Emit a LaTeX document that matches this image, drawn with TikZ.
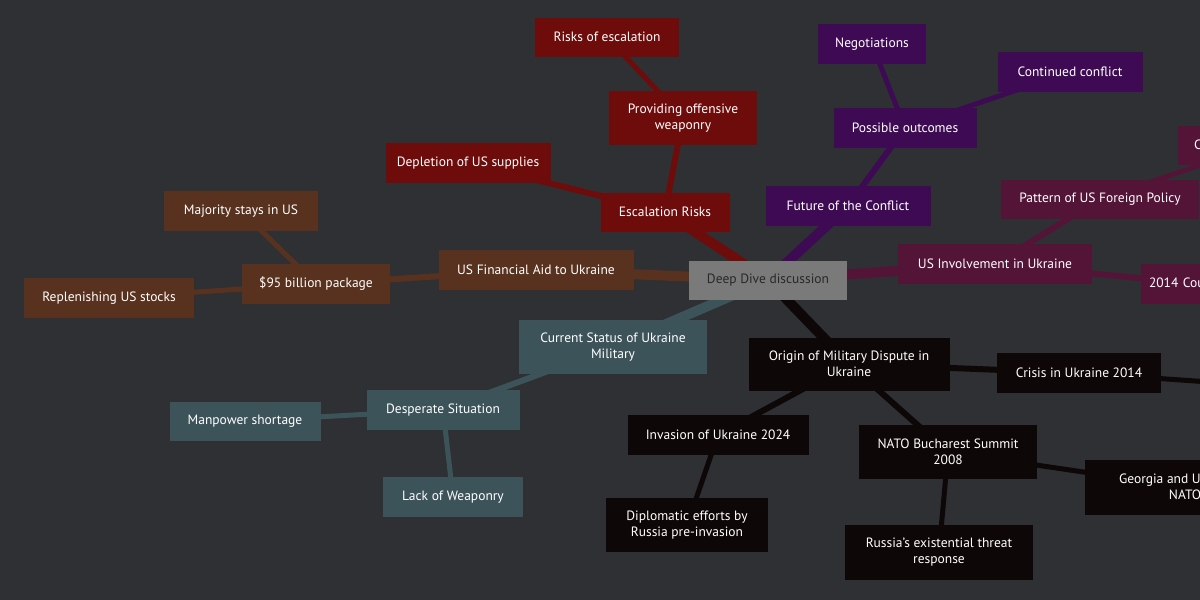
\documentclass[tikz,border=0pt]{standalone}
\usepackage{fontspec}
\setmainfont{PT Sans}
\begin{document}
\begin{tikzpicture}[x=1pt,y=-1pt,
  n/.style={fill=#1,text=white,font=\fontsize{13.5}{15.5}\selectfont,align=center,inner sep=0pt},
  e/.style={draw=#1,line width=6pt},
  e1/.style={draw=#1,line width=10pt}]
\fill[fill={rgb,255:red,46;green,48;blue,52}] (0,0) rectangle (1200,600);
\useasboundingbox (0,0) rectangle (1200,600);
\clip (0,0) rectangle (1200,600);
\definecolor{br}{RGB}{88,50,30}
\definecolor{rd}{RGB}{110,12,12}
\definecolor{pu}{RGB}{62,10,84}
\definecolor{ma}{RGB}{84,20,56}
\definecolor{bk}{RGB}{14,7,7}
\definecolor{te}{RGB}{61,83,90}
\definecolor{gr}{RGB}{122,122,122}
% coordinates
\coordinate (cRoot) at (768,280);
\coordinate (cFin) at (536,270); \coordinate (c95) at (316,284);
\coordinate (cMaj) at (241,211); \coordinate (cRep) at (109,298);
\coordinate (cEsc) at (665,212); \coordinate (cDep) at (468,163);
\coordinate (cProv) at (683,118); \coordinate (cRisk) at (607,37);
\coordinate (cFut) at (848,206); \coordinate (cPos) at (905,128);
\coordinate (cNeg) at (872,44); \coordinate (cCon) at (1070,72);
\coordinate (cInv) at (995,264); \coordinate (cPat) at (1100,199);
\coordinate (cC) at (1260,145); \coordinate (c2014) at (1200,284);
\coordinate (cOri) at (849,364); \coordinate (cCri) at (1079,373);
\coordinate (cCriOut) at (1210,382);
\coordinate (cInva) at (718,435); \coordinate (cDip) at (687,525);
\coordinate (cNato) at (948,452); \coordinate (cRus) at (939,552);
\coordinate (cGeo) at (1185,487);
\coordinate (cCur) at (613,347); \coordinate (cDes) at (443,410);
\coordinate (cMan) at (245,421); \coordinate (cLack) at (453,497);
% edges
\draw[e1=br] (cRoot)--(cFin); \draw[e=br] (cFin)--(c95); \draw[e=br,line width=5pt] (c95)--(cMaj); \draw[e=br,line width=5pt] (c95)--(cRep);
\draw[e1=rd] (cRoot)--(cEsc); \draw[e=rd] (cEsc)--(cDep); \draw[e=rd] (cEsc)--(cProv); \draw[e=rd,line width=5pt] (cProv)--(cRisk);
\draw[e1=pu] (cRoot)--(cFut); \draw[e=pu] (cFut)--(cPos); \draw[e=pu,line width=5pt] (cPos)--(cNeg); \draw[e=pu,line width=5pt] (cPos)--(cCon);
\draw[e1=ma] (cRoot)--(cInv); \draw[e=ma] (cInv)--(cPat); \draw[e=ma] (cInv)--(c2014); \draw[e=ma,line width=5pt] (cPat)--(cC);
\draw[e1=bk] (cRoot)--(cOri); \draw[e=bk] (cOri)--(cCri); \draw[e=bk,line width=5pt] (cCri)--(cCriOut);
\draw[e=bk] (cOri)--(cInva); \draw[e=bk,line width=5pt] (cInva)--(cDip);
\draw[e=bk] (cOri)--(cNato); \draw[e=bk,line width=5pt] (cNato)--(cRus); \draw[e=bk,line width=5pt] (cNato)--(cGeo);
\draw[e1=te] (cRoot)--(cCur); \draw[e=te] (cCur)--(cDes); \draw[e=te,line width=5pt] (cDes)--(cMan); \draw[e=te,line width=5pt] (cDes)--(cLack);
% nodes
\node[n=gr,text={rgb,255:red,40;green,40;blue,40},minimum width=158pt,minimum height=39pt] (root) at (cRoot) {Deep Dive discussion};
\node[n=br,minimum width=195pt,minimum height=40pt] (fin) at (cFin) {US Financial Aid to Ukraine};
\node[n=br,minimum width=148pt,minimum height=40pt] (b95) at (c95) {\$95 billion package};
\node[n=br,minimum width=154pt,minimum height=40pt] (maj) at (cMaj) {Majority stays in US};
\node[n=br,minimum width=170pt,minimum height=40pt] (rep) at (cRep) {Replenishing US stocks};
\node[n=rd,minimum width=129pt,minimum height=39pt] (esc) at (cEsc) {Escalation Risks};
\node[n=rd,minimum width=165pt,minimum height=40pt] (dep) at (cDep) {Depletion of US supplies};
\node[n=rd,minimum width=148pt,minimum height=54pt] (prov) at (cProv) {Providing offensive\\weaponry};
\node[n=rd,minimum width=144pt,minimum height=39pt] (risk) at (cRisk) {Risks of escalation};
\node[n=pu,minimum width=165pt,minimum height=40pt] (fut) at (cFut) {Future of the Conflict};
\node[n=pu,minimum width=143pt,minimum height=40pt] (pos) at (cPos) {Possible outcomes};
\node[n=pu,minimum width=108pt,minimum height=40pt] (neg) at (cNeg) {Negotiations};
\node[n=pu,minimum width=145pt,minimum height=40pt] (con) at (cCon) {Continued conflict};
\node[n=ma,minimum width=194pt,minimum height=40pt] (inv) at (cInv) {US Involvement in Ukraine};
\node[n=ma,minimum width=198pt,minimum height=39pt] (pat) at (cPat) {Pattern of US Foreign Policy};
\node[n=ma,minimum width=164pt,minimum height=39pt] (cn) at (cC) {};
\node[text=white,font=\fontsize{13.5}{15.5}\selectfont,anchor=west,inner sep=0pt] (ct) at (1194,145) {C};
\node[n=ma,minimum width=118pt,minimum height=40pt,text width=102pt,align=left] (y14) at (c2014) {2014 Coup};
\node[n=bk,minimum width=201pt,minimum height=53pt] (ori) at (cOri) {Origin of Military Dispute in\\Ukraine};
\node[n=bk,minimum width=164pt,minimum height=40pt] (cri) at (cCri) {Crisis in Ukraine 2014};
\node[n=bk,minimum width=181pt,minimum height=40pt] (inva) at (cInva) {Invasion of Ukraine 2024};
\node[n=bk,minimum width=162pt,minimum height=54pt] (dip) at (cDip) {Diplomatic efforts by\\Russia pre-invasion};
\node[n=bk,minimum width=178pt,minimum height=54pt] (nato) at (cNato) {NATO Bucharest Summit\\2008};
\node[n=bk,minimum width=188pt,minimum height=55pt] (rus) at (cRus) {Russia's existential threat\\response};
\node[n=bk,minimum width=200pt,minimum height=55pt] (geo) at (cGeo) {Georgia and Ukraine in\\NATO};
\node[n=te,minimum width=188pt,minimum height=54pt] (cur) at (cCur) {Current Status of Ukraine\\Military};
\node[n=te,minimum width=153pt,minimum height=40pt] (des) at (cDes) {Desperate Situation};
\node[n=te,minimum width=151pt,minimum height=39pt] (man) at (cMan) {Manpower shortage};
\node[n=te,minimum width=140pt,minimum height=40pt] (lack) at (cLack) {Lack of Weaponry};
\end{tikzpicture}
\end{document}
